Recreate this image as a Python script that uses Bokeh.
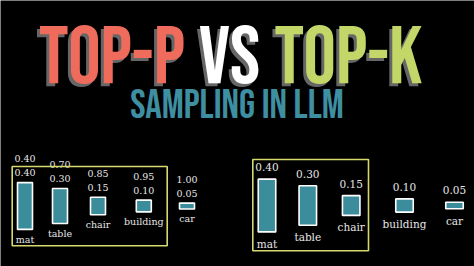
from bokeh.plotting import figure
from bokeh.models import Range1d
from bokeh.core.properties import value
from bokeh.embed import file_html
from bokeh.resources import INLINE

# ---- data ----
words = ["mat", "table", "chair", "building", "car"]
probs = [0.40, 0.30, 0.15, 0.10, 0.05]
cumulative = [0.40, 0.70, 0.85, 0.95, 1.00]

title_words = ["TOP-P", "VS", "TOP-K"]
subtitle = "SAMPLING IN LLM"

# ---- layout (pixels) ----
W, H = 474, 266
left_x = [24.5, 59.5, 97.5, 143.3, 186.5]
right_x = [266.5, 307.3, 350.7, 404.0, 454.0]
left_center, right_center = 205.5, 205.0
left_scale, right_scale = 117.0, 132.0
left_w, right_w = 15.0, 17.5

TEAL = "#3b8d9b"
BOXC = "#d6d96c"
LBL = "#e6e6e6"

p = figure(width=W, height=H, output_backend="svg", toolbar_location=None,
           x_range=Range1d(0, W), y_range=Range1d(H, 0),
           background_fill_color="black", border_fill_color="black",
           min_border=0, outline_line_color=None)
p.axis.visible = False
p.grid.visible = False

# title with shadow
title_x = [111.5, 229.0, 348.0]
title_cols = ["#ef6b5b", "#ffffff", "#c3d768"]
TF = value("Bebas Neue")
TY = 58
p.text(x=[x - 3 for x in title_x], y=[TY + 3] * 3, text=title_words,
       text_font=TF, text_font_size="81px",
       text_align="center", text_baseline="alphabetic", text_color="#666666")
p.text(x=title_x, y=[TY] * 3, text=title_words, text_color=title_cols,
       text_font=TF, text_font_size="81px",
       text_align="center", text_baseline="alphabetic")
p.text(x=[236.5], y=[104.5], text=[subtitle], text_color="#3e8fa1",
       text_font=TF, text_font_size="41px",
       text_align="center", text_baseline="alphabetic")

SERIF = value("DejaVu Serif")

# left panel: top-p
lh = [v * left_scale for v in probs]
ltop = [left_center - h / 2 for h in lh]
lbot = [left_center + h / 2 for h in lh]
p.rect(x=left_x, y=[left_center] * 5, width=left_w, height=lh,
       fill_color=TEAL, line_color="white", line_width=1.6)
p.text(x=left_x, y=[t - 10 for t in ltop], text=[f"{v:.2f}" for v in probs],
       text_font=SERIF, text_font_size="9.5px", text_color=LBL,
       text_align="center", text_baseline="middle")
p.text(x=left_x, y=[t - 24 for t in ltop], text=[f"{v:.2f}" for v in cumulative],
       text_font=SERIF, text_font_size="9.5px", text_color=LBL,
       text_align="center", text_baseline="middle")
p.text(x=left_x, y=[b + 10 for b in lbot], text=words,
       text_font=SERIF, text_font_size="9.5px", text_color=LBL,
       text_align="center", text_baseline="middle")
p.quad(left=[11.7], right=[166.7], top=[166], bottom=[245.3],
       fill_color=None, line_color=BOXC, line_width=1.6)

# right panel: top-k
rh = [v * right_scale for v in probs]
rtop = [right_center - h / 2 for h in rh]
rbot = [right_center + h / 2 for h in rh]
p.rect(x=right_x, y=[right_center] * 5, width=right_w, height=rh,
       fill_color=TEAL, line_color="white", line_width=1.6)
p.text(x=right_x, y=[t - 12 for t in rtop], text=[f"{v:.2f}" for v in probs],
       text_font=SERIF, text_font_size="10.5px", text_color=LBL,
       text_align="center", text_baseline="middle")
p.text(x=right_x, y=[b + 12 for b in rbot], text=words,
       text_font=SERIF, text_font_size="10.5px", text_color=LBL,
       text_align="center", text_baseline="middle")
p.quad(left=[252.3], right=[368], top=[159], bottom=[250.3],
       fill_color=None, line_color=BOXC, line_width=1.6)

open("out.html", "w").write(file_html(p, INLINE))
